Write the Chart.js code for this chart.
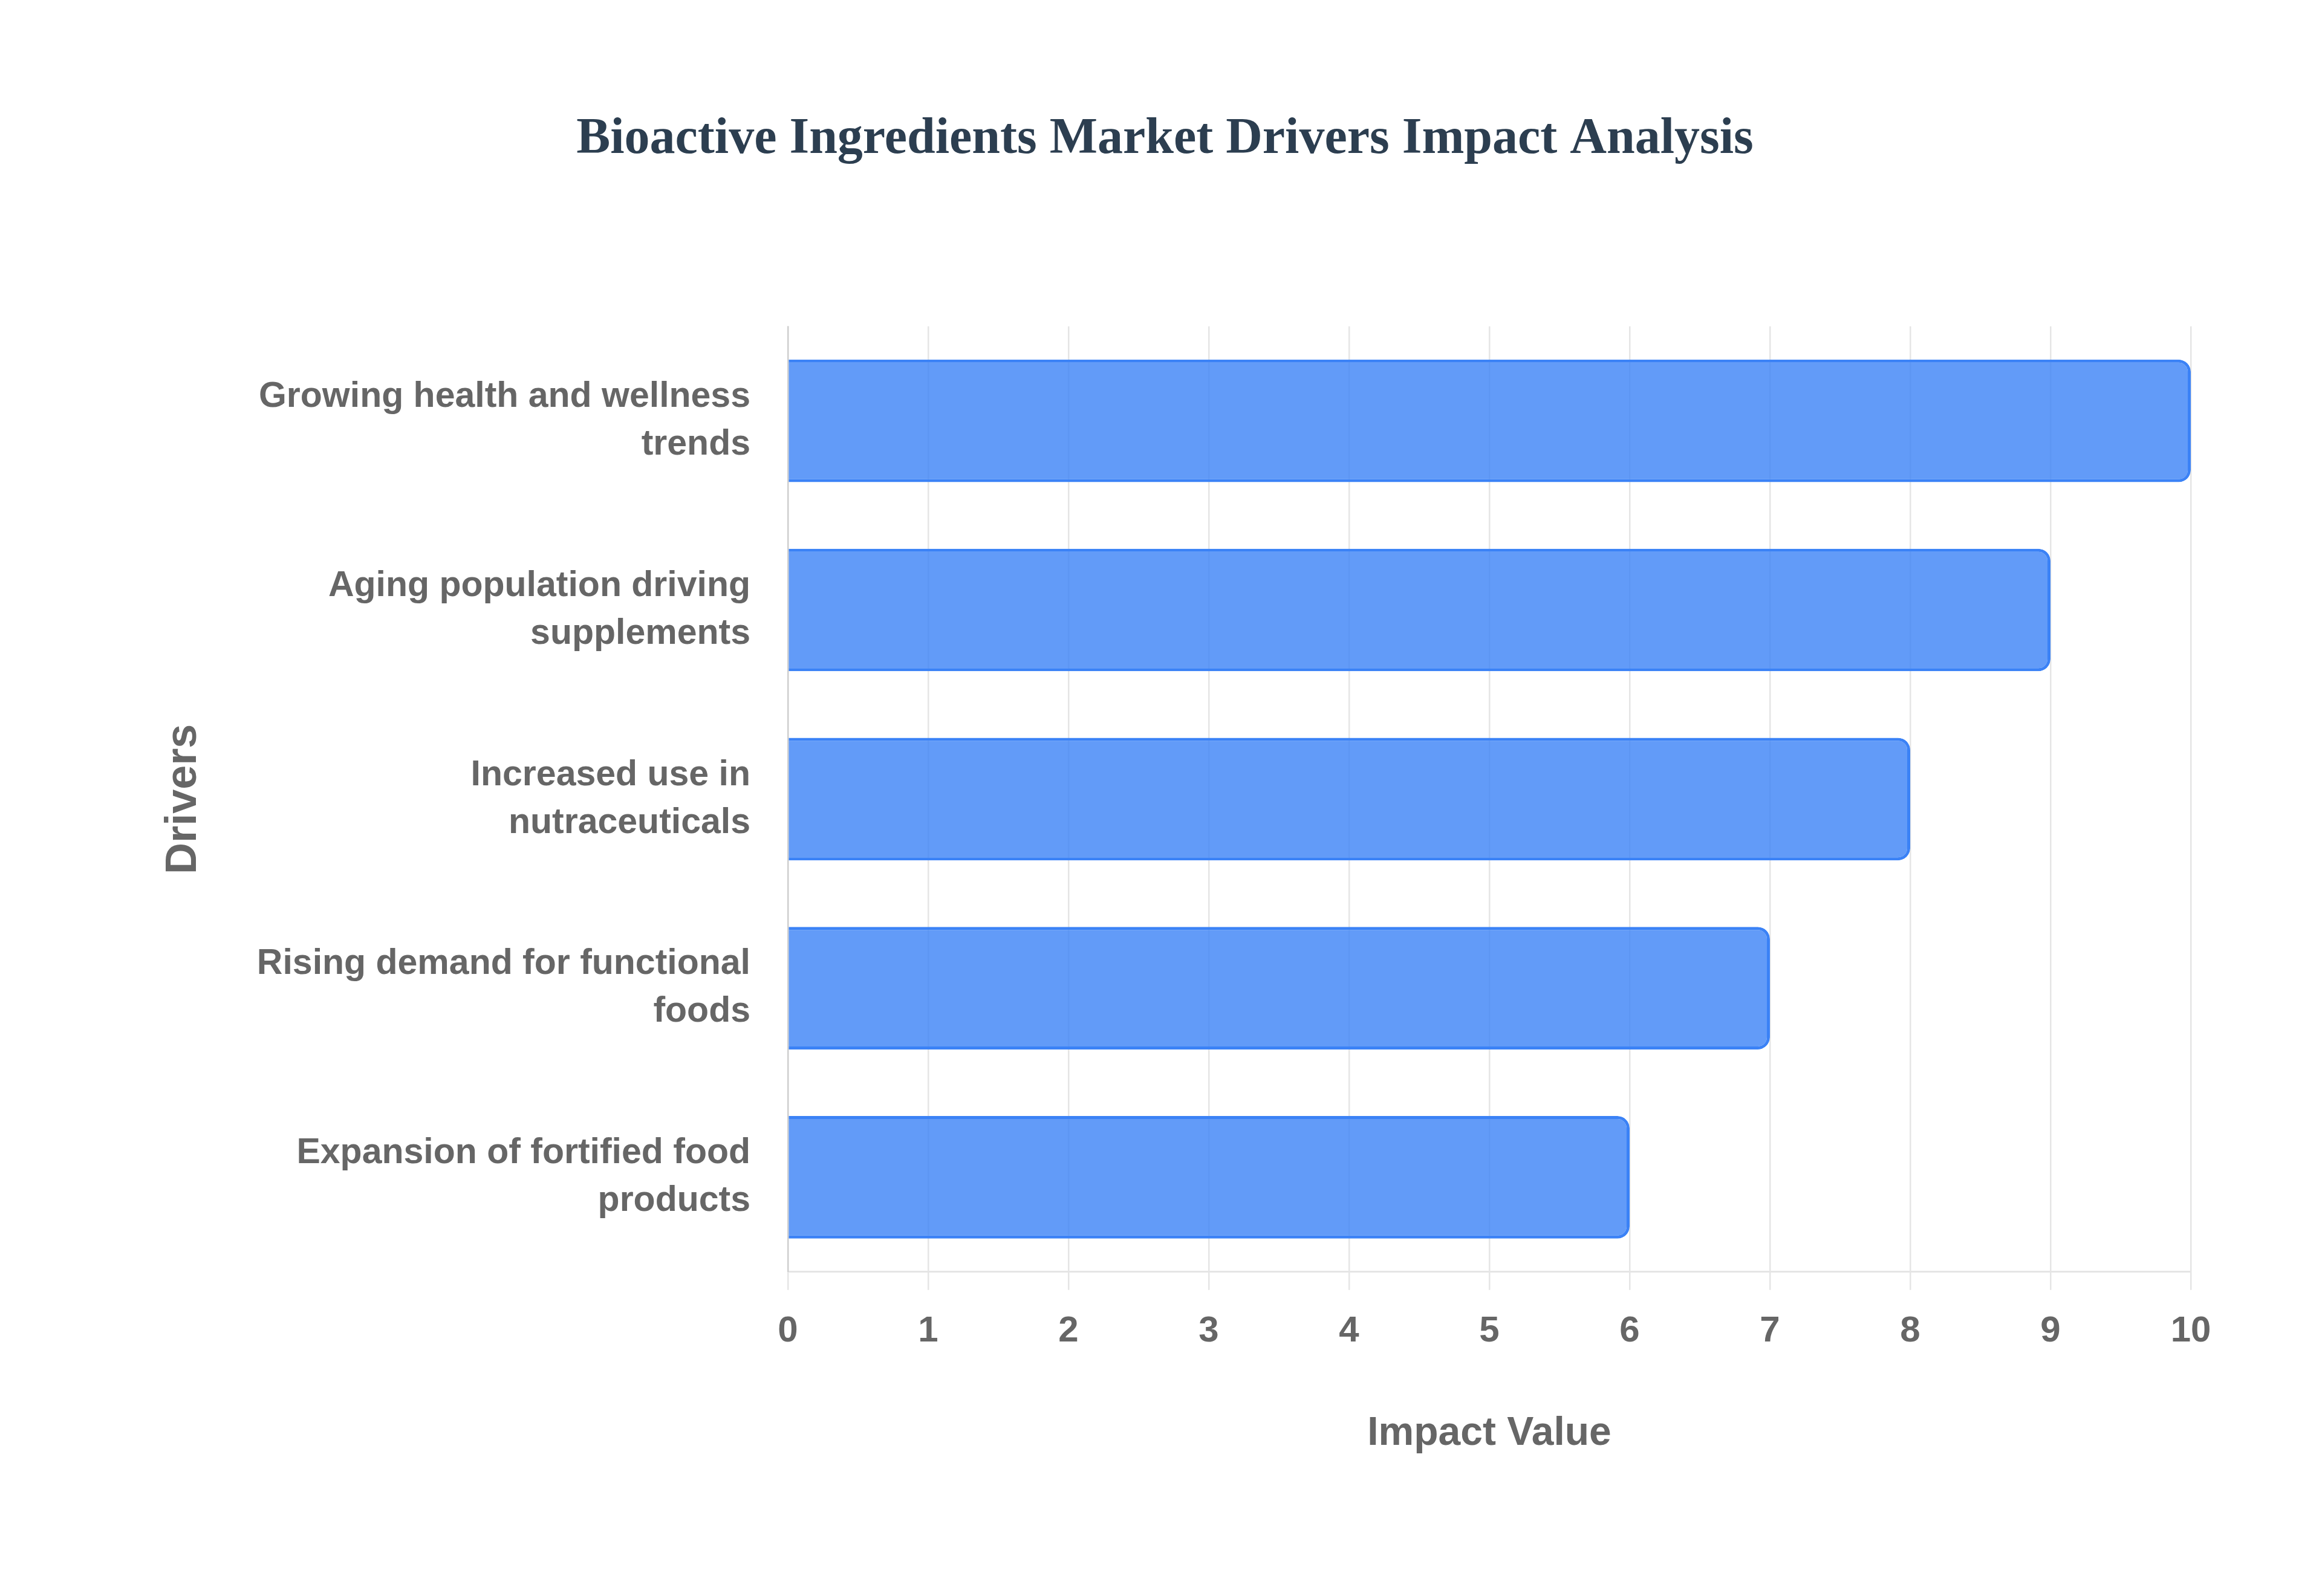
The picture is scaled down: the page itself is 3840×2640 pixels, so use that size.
<!DOCTYPE html>
<html>
<head>
<meta charset="utf-8">
<title>Bioactive Ingredients Market Drivers Impact Analysis</title>
<script src="https://cdn.jsdelivr.net/npm/chart.js@4.4.1/dist/chart.umd.min.js"></script>
<style>
  html, body { margin: 0; padding: 0; background: #ffffff; }
  #wrap { width: 3840px; height: 2640px; }
</style>
</head>
<body>
<div id="wrap"><canvas id="chart" width="3840" height="2640"></canvas></div>
<script>
// drivers, already split into the two lines shown on the axis
const drivers = [
  ['Growing health and wellness', 'trends'],
  ['Aging population driving', 'supplements'],
  ['Increased use in', 'nutraceuticals'],
  ['Rising demand for functional', 'foods'],
  ['Expansion of fortified food', 'products']
];
const impactValues = [10, 9, 8, 7, 6];
const impactTicks = [0, 1, 2, 3, 4, 5, 6, 7, 8, 9, 10];

const sans = "'Liberation Sans', Arial, Helvetica, sans-serif";
const grey = '#666666';
const gridGrey = 'rgba(0,0,0,0.1)';

const ctx = document.getElementById('chart');
new Chart(ctx, {
  type: 'bar',
  data: {
    labels: drivers,
    datasets: [{
      label: 'Impact Value',
      data: impactValues,
      backgroundColor: 'rgba(59,130,246,0.8)',
      borderColor: 'rgb(59,130,246)',
      borderWidth: 5,
      borderRadius: 20,
      barPercentage: 0.81,
      categoryPercentage: 0.8
    }]
  },
  options: {
    indexAxis: 'y',
    responsive: false,
    animation: false,
    devicePixelRatio: 1,
    layout: {
      padding: { top: 0, left: 230, right: 217, bottom: 229 }
    },
    plugins: {
      legend: { display: false },
      tooltip: { enabled: false },
      title: {
        display: true,
        text: 'Bioactive Ingredients Market Drivers Impact Analysis',
        color: '#2c3e50',
        font: { family: "'Liberation Serif', 'Times New Roman', serif", size: 84, weight: 'bold' },
        padding: { top: 181, bottom: 258 }
      }
    },
    scales: {
      x: {
        min: 0,
        max: 10,
        afterBuildTicks: (scale) => {
          scale.ticks = impactTicks.map(v => ({ value: v }));
        },
        grid: { color: gridGrey, lineWidth: 2.5, tickLength: 30 },
        border: { color: gridGrey, width: 3 },
        ticks: {
          color: grey,
          padding: 33,
          font: { family: sans, size: 60, weight: 'bold' }
        },
        title: {
          display: true,
          text: 'Impact Value',
          color: grey,
          padding: { top: 60, bottom: 0 },
          font: { family: sans, size: 66, weight: 'bold' }
        }
      },
      y: {
        grid: { display: false, drawTicks: false },
        border: { color: gridGrey, width: 2.5 },
        afterFit: (scale) => { scale.width = 1073; },
        ticks: {
          color: grey,
          padding: 62,
          font: { family: sans, size: 59, weight: 'bold', lineHeight: 1.34 }
        },
        title: {
          display: true,
          text: 'Drivers',
          color: grey,
          padding: { top: 31, bottom: 0 },
          font: { family: sans, size: 72, weight: 'bold' }
        }
      }
    }
  }
});
</script>
</body>
</html>
